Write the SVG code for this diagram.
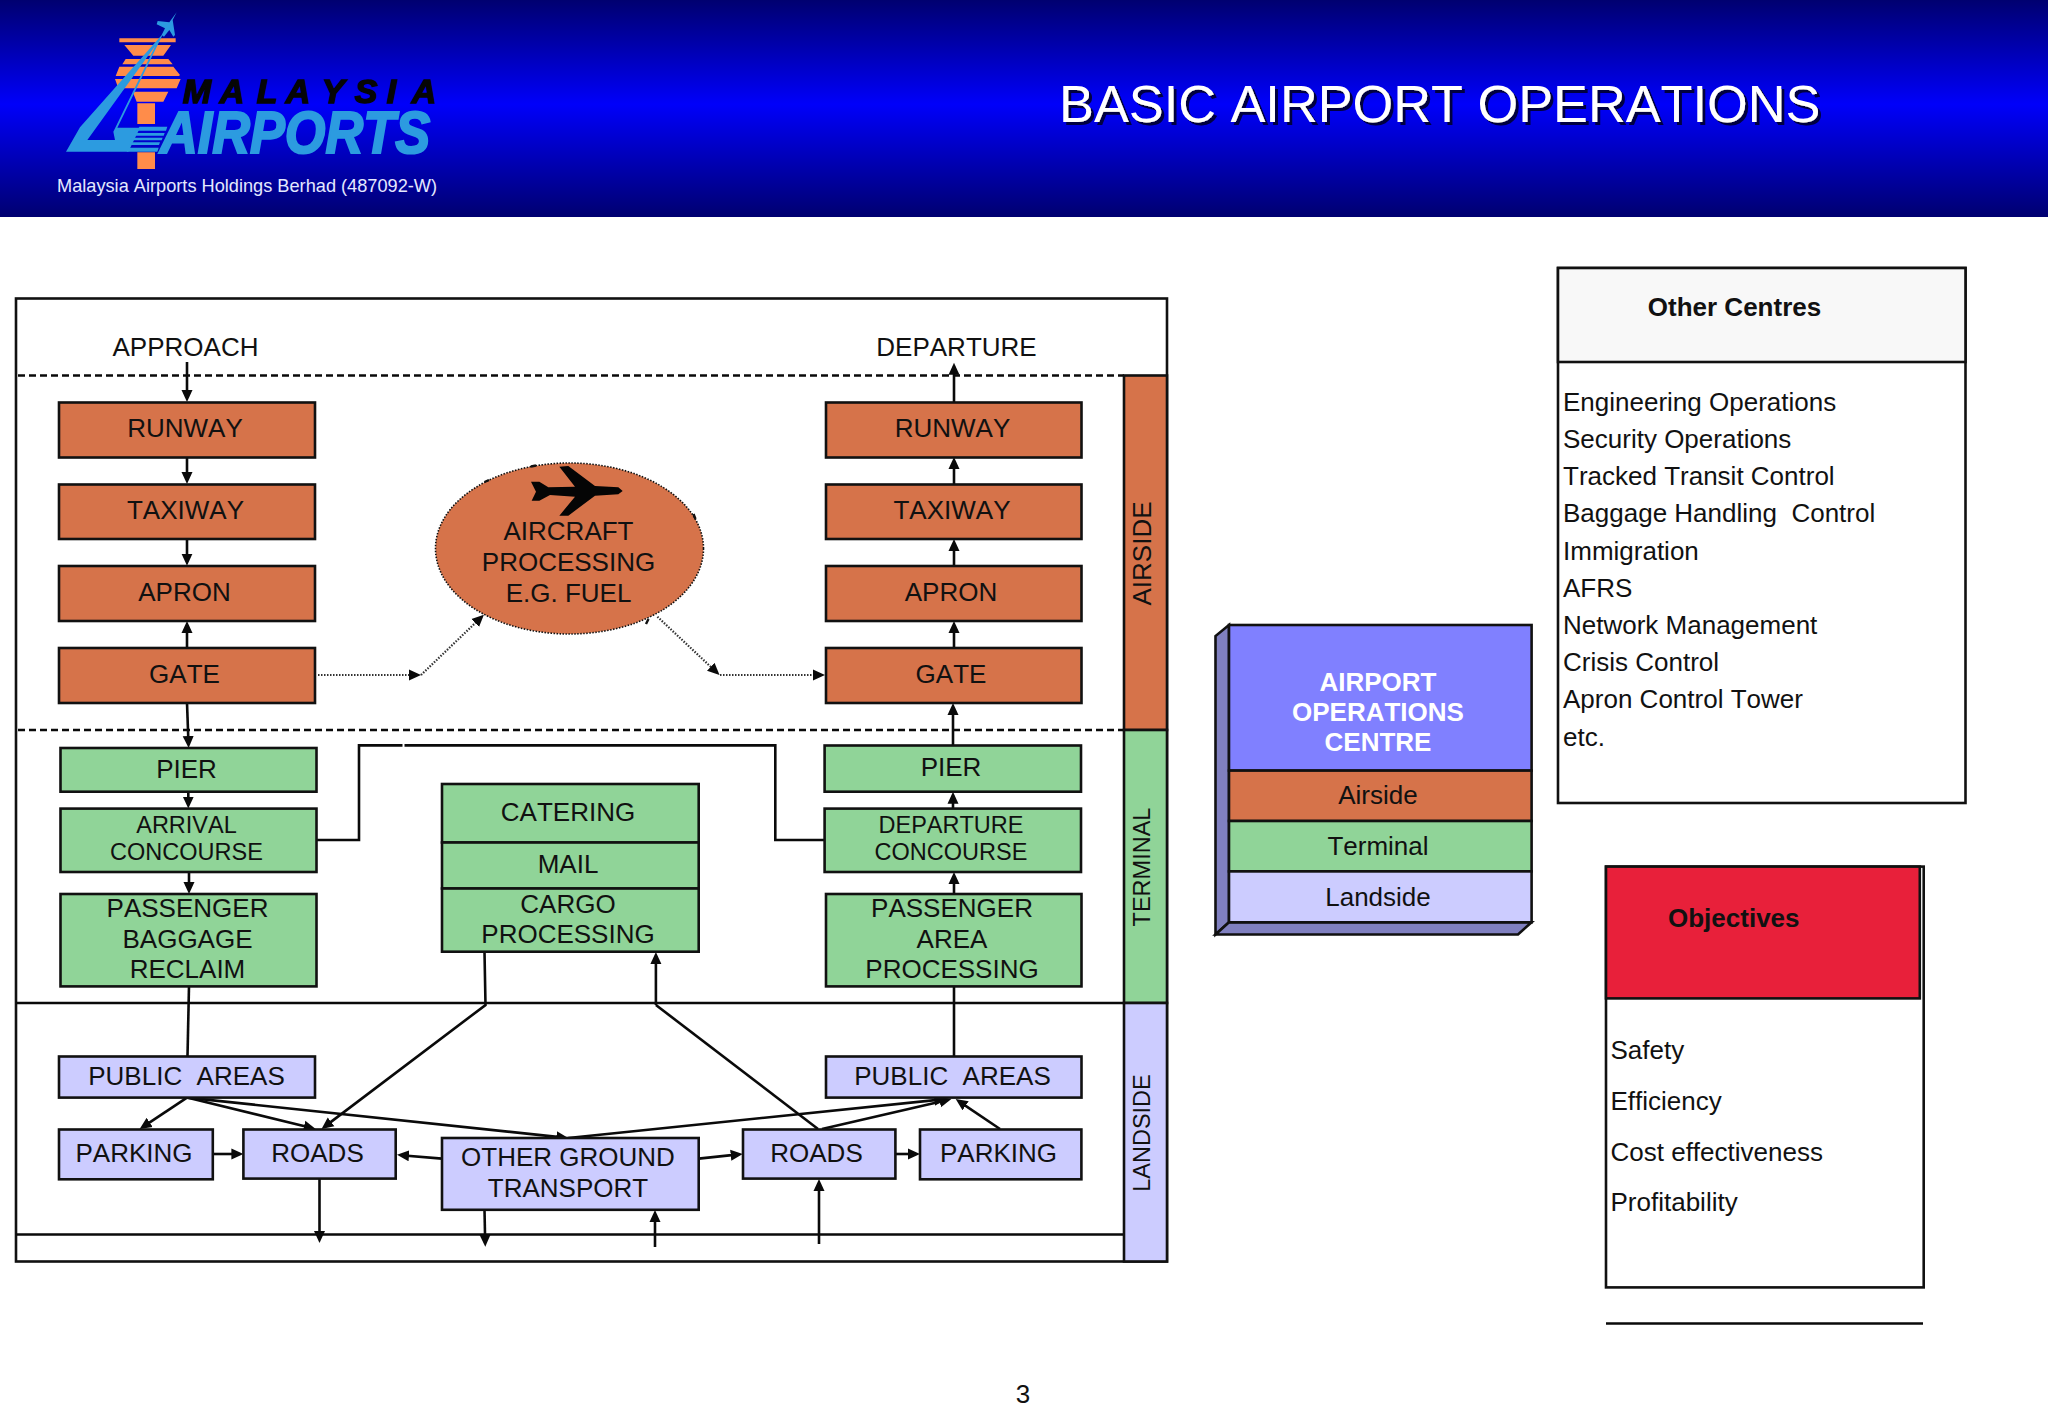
<svg xmlns="http://www.w3.org/2000/svg" width="2048" height="1418" viewBox="0 0 2048 1418">
<defs>
<linearGradient id="hdr" x1="0" y1="0" x2="0" y2="1"><stop offset="0" stop-color="#000070"/><stop offset="0.48" stop-color="#0000FA"/><stop offset="1" stop-color="#000070"/></linearGradient>
<filter id="shadow" x="-5%" y="-20%" width="110%" height="150%"><feOffset in="SourceAlpha" dx="2.5" dy="2.5" result="o"/><feFlood flood-color="#000040"/><feComposite in2="o" operator="in"/><feMerge><feMergeNode/><feMergeNode in="SourceGraphic"/></feMerge></filter>
<marker id="arr" markerUnits="userSpaceOnUse" markerWidth="14" markerHeight="12" refX="8" refY="6" orient="auto"><path d="M0,0.5 L12,6 L0,11.5 z" fill="#0a0a0a"/></marker>
</defs>
<style>
text{font-family:"Liberation Sans",Arial,sans-serif;fill:#111;font-kerning:none}
.t{font-size:26px;text-anchor:middle}
.m{font-size:23.5px;text-anchor:middle}
.s{font-size:23.5px;text-anchor:middle}
.l{font-size:26px}
.b{font-size:26px;font-weight:bold}
.c{font-size:26px;font-weight:bold;text-anchor:middle;fill:#fff}
.box{stroke:#111;stroke-width:2.6}
.o{fill:#D6734A}.g{fill:#90D498}.v{fill:#CCCCFF}
.ln{fill:none;stroke:#0a0a0a;stroke-width:2.6}
.a{fill:none;stroke:#0a0a0a;stroke-width:2.6;marker-end:url(#arr)}
.d{fill:none;stroke:#333;stroke-width:2.2;stroke-dasharray:1.5 1.5;marker-end:url(#arr)}
.dash{fill:none;stroke:#0a0a0a;stroke-width:2.4;stroke-dasharray:7 4}
.tw{fill:#FF8C4A}.lb{fill:#2C9BE0}
</style>
<rect width="2048" height="1418" fill="#fff"/>
<g id="header">
<rect width="2048" height="217" fill="url(#hdr)"/>
<g id="logo">
<g transform="translate(60 5) scale(.33333)">
<path class="tw" d="M178,100H347V112H178z M193,120H333L310,152H220z M187,178L197,162H325L338,178z M178,185H340L360,210L357,213H167z M165,222H362L350,250H175z M218,260H325L310,290H230z M232,295H285V357H232z M232,442H285V492H232z"/>
<path class="lb" fill-rule="evenodd" d="M310,85L172,368H240L205,440H18L60,367z M286,122L82,405H165L160,380z"/>
<path class="lb" d="M238,365H322L318,377H232z M225,384H314L311,392H221z M218,398H308L305,406H214z M212,412H300L297,420H208z M205,428H296L292,440H200z"/>
<path class="lb" d="M350,22L338,45L345,90L340,95L328,75L312,95L305,90L315,70L290,58L293,48L328,52z"/>
</g>
<text style="font-size:34px;font-weight:bold;font-style:italic;fill:#050505;stroke:#050505;stroke-width:1.4" x="183 220 257 286 322 355 387 412" y="103">MALAYSIA</text>
<text style="font-size:60px;font-weight:bold;font-style:italic;fill:#2C9BE0;stroke:#2C9BE0;stroke-width:2.2" x="160" y="153" textLength="270" lengthAdjust="spacingAndGlyphs">AIRPORTS</text>
<text style="font-size:18.200px;fill:#E4E8FF" x="57" y="192">Malaysia Airports Holdings Berhad (487092-W)</text>
</g>
<text style="font-size:52.300px;fill:#fff" filter="url(#shadow)" x="1059" y="122">BASIC AIRPORT OPERATIONS</text>
</g>
<g id="frame">
<rect x="16" y="298.500" width="1151" height="963" fill="#fff" stroke="#111" stroke-width="2.600"/>
<path class="dash" d="M18,375.500H1124M18,730H1124"/>
<path class="ln" d="M16,1003H1124M16,1234.500H1124"/>
</g>
<g id="band-airside"><rect class="box o" x="1124" y="375.500" width="43" height="354.500"/><text class="t" transform="translate(1151 553.500) rotate(-90)">AIRSIDE</text></g>
<g id="band-terminal"><rect class="box g" x="1124" y="730" width="43" height="273"/><text class="m" transform="translate(1150 867) rotate(-90)">TERMINAL</text></g>
<g id="band-landside"><rect class="box v" x="1124" y="1003" width="43" height="258.500"/><text class="m" transform="translate(1150 1133) rotate(-90)">LANDSIDE</text></g>
<text class="t" x="185.500" y="356">APPROACH</text>
<text class="t" x="956.500" y="356">DEPARTURE</text>
<g id="connectors">
<path class="a" d="M187,362V398"/><path class="a" d="M187,457V480"/><path class="a" d="M187,539V561.700"/><path class="a" d="M187,648V625"/><path class="a" d="M187,703L188.500,744"/><path class="a" d="M188.300,792V804.600"/><path class="a" d="M189,872V890"/><path class="ln" d="M189,986L187.500,1056"/>
<path class="a" d="M954,420V366.700"/><path class="a" d="M954,484V461"/><path class="a" d="M954,566V543"/><path class="a" d="M954,648V625"/><path class="a" d="M953,746V707"/><path class="a" d="M953,808.600V795.700"/><path class="a" d="M954,894V876"/><path class="ln" d="M954,986V1056"/>
<path class="ln" d="M316.500,840H359V745.400H402.500M404.500,745.400H775.300V840H824.600"/>
<path class="d" d="M318,675H417"/><path class="d" d="M421,675L481,617.500"/><path class="d" d="M657.400,616.700L716.600,672.300"/><path class="d" d="M720,675H821"/>
<path class="a" d="M484.500,952L485.500,1005L324.700,1126.600"/><path class="a" d="M655.900,1005V956"/><path class="ln" d="M655.900,1005L818,1129"/>
<path class="a" d="M187,1097.600L143,1126.800"/><path class="a" d="M187,1097.600L311.800,1128"/><path class="a" d="M187,1097.600L564.300,1137.600"/>
<path class="a" d="M213,1154H239.400"/><path class="a" d="M442,1158.600L401,1155.200"/><path class="a" d="M319.500,1179V1239"/><path class="a" d="M484.500,1210L485.200,1242.700"/><path class="a" d="M655,1247V1214"/><path class="a" d="M819,1244V1183"/>
<path class="a" d="M698.700,1158.600L738.700,1154.400"/><path class="a" d="M895.400,1154H916"/><path class="a" d="M822,1129L947.500,1100"/><path class="a" d="M568.300,1138L942.300,1099.400"/><path class="a" d="M1000,1129L959,1101.300"/>
</g>
<g id="runway-l"><rect class="box o" x="59" y="402.500" width="256" height="55"/><text class="t" x="185" y="437">RUNWAY</text></g>
<g id="taxiway-l"><rect class="box o" x="59" y="484.500" width="256" height="54.500"/><text class="t" x="185.500" y="519">TAXIWAY</text></g>
<g id="apron-l"><rect class="box o" x="59" y="566" width="256" height="55"/><text class="t" x="184.500" y="601">APRON</text></g>
<g id="gate-l"><rect class="box o" x="59" y="648" width="256" height="55"/><text class="t" x="184.500" y="682.500">GATE</text></g>
<g id="runway-r"><rect class="box o" x="826" y="402.500" width="255.500" height="55"/><text class="t" x="952.500" y="437">RUNWAY</text></g>
<g id="taxiway-r"><rect class="box o" x="826" y="484.500" width="255.500" height="54.500"/><text class="t" x="952" y="519">TAXIWAY</text></g>
<g id="apron-r"><rect class="box o" x="826" y="566" width="255.500" height="55"/><text class="t" x="951" y="601">APRON</text></g>
<g id="gate-r"><rect class="box o" x="826" y="648" width="255.500" height="55"/><text class="t" x="951" y="682.500">GATE</text></g>
<g id="aircraft-processing">
<ellipse cx="569.500" cy="548.500" rx="134" ry="85.500" fill="#D6734A" stroke="#111" stroke-width="1.600" stroke-dasharray="1.500 1.500"/>
<path d="M531,466.500L536,465.500M484.500,482L489,480M693.500,514L695.500,519M648.500,619L646,624" stroke="#111" stroke-width="2.400" fill="none"/>
<path transform="translate(500 450) scale(.33333)" fill="#050505" d="M368,123L355,133L285,137L205,197L178,197L225,140L150,135L118,152L95,152L108,125L93,95L118,95L145,112L225,110L178,50L205,48L285,108L355,112z"/>
<text class="t" x="568.500" y="540">AIRCRAFT</text><text class="t" x="568.500" y="571">PROCESSING</text><text class="t" x="568.500" y="601.500">E.G. FUEL</text>
</g>
<g id="pier-l"><rect class="box g" x="60.500" y="748" width="256" height="43.700"/><text class="t" x="186.500" y="777.500">PIER</text></g>
<g id="arrival"><rect class="box g" x="60.500" y="808.600" width="256" height="63.400"/><text class="s" x="186.500" y="833">ARRIVAL</text><text class="s" x="186.500" y="860">CONCOURSE</text></g>
<g id="reclaim"><rect class="box g" x="60.500" y="894" width="256" height="92.400"/><text class="t" x="187.500" y="917">PASSENGER</text><text class="t" x="187.500" y="947.500">BAGGAGE</text><text class="t" x="187.500" y="978">RECLAIM</text></g>
<g id="catering"><rect class="box g" x="442" y="784" width="256.700" height="58.500"/><text class="t" x="568" y="821">CATERING</text></g>
<g id="mail"><rect class="box g" x="442" y="842.500" width="256.700" height="46"/><text class="t" x="568" y="873">MAIL</text></g>
<g id="cargo"><rect class="box g" x="442" y="888.500" width="256.700" height="63.200"/><text class="t" x="568" y="912.500">CARGO</text><text class="t" x="568" y="942.500">PROCESSING</text></g>
<g id="pier-r"><rect class="box g" x="824.600" y="745.500" width="256.400" height="46.200"/><text class="t" x="951" y="775.500">PIER</text></g>
<g id="departure"><rect class="box g" x="824.600" y="808.600" width="256.400" height="63.400"/><text class="s" x="951" y="833">DEPARTURE</text><text class="s" x="951" y="860">CONCOURSE</text></g>
<g id="passenger"><rect class="box g" x="826" y="894" width="255.500" height="92.400"/><text class="t" x="952" y="917">PASSENGER</text><text class="t" x="952" y="947.500">AREA</text><text class="t" x="952" y="978">PROCESSING</text></g>
<g id="public-l"><rect class="box v" x="59" y="1056.500" width="256" height="41.100"/><text class="t" x="186.500" y="1085" xml:space="preserve">PUBLIC  AREAS</text></g>
<g id="parking-l"><rect class="box v" x="59" y="1129.500" width="153.800" height="49.800"/><text class="t" x="134" y="1161.500">PARKING</text></g>
<g id="roads-l"><rect class="box v" x="243.400" y="1129.500" width="152.300" height="49.100"/><text class="t" x="317.500" y="1161.500">ROADS</text></g>
<g id="other-ground"><rect class="box v" x="442" y="1138" width="256.700" height="71.800"/><text class="t" x="568" y="1166">OTHER GROUND</text><text class="t" x="568" y="1196.500">TRANSPORT</text></g>
<g id="roads-r"><rect class="box v" x="743" y="1129.500" width="152.400" height="49.100"/><text class="t" x="816.500" y="1161.500">ROADS</text></g>
<g id="parking-r"><rect class="box v" x="920" y="1129.500" width="161.400" height="49.800"/><text class="t" x="998.500" y="1161.500">PARKING</text></g>
<g id="public-r"><rect class="box v" x="826" y="1056.500" width="255.500" height="41.100"/><text class="t" x="952.500" y="1085" xml:space="preserve">PUBLIC  AREAS</text></g>
<g id="aoc">
<path d="M1229,625L1215.500,636V934.500L1229,922.300z" fill="#8080C0" class="box"/>
<path d="M1229,922.300H1531.600L1518,934.500H1215.500z" fill="#8080C0" class="box"/>
<rect class="box" x="1229" y="625" width="302.600" height="145.600" fill="#8080FF"/>
<rect class="box o" x="1229" y="770.600" width="302.600" height="50.400"/>
<rect class="box g" x="1229" y="821" width="302.600" height="50.400"/>
<rect class="box v" x="1229" y="871.400" width="302.600" height="50.900"/>
<text class="c" x="1378" y="691">AIRPORT</text><text class="c" x="1378" y="721">OPERATIONS</text><text class="c" x="1378" y="751">CENTRE</text>
<text class="t" x="1378" y="804">Airside</text><text class="t" x="1378" y="855">Terminal</text><text class="t" x="1378" y="906">Landside</text>
</g>
<g id="other-centres">
<rect class="box" x="1558" y="268" width="407.500" height="535" fill="#fff"/>
<rect class="box" x="1558" y="268" width="407.500" height="94" fill="#F8F8F8"/>
<text class="b" text-anchor="middle" x="1734.500" y="316">Other Centres</text>
<text class="l" x="1563" y="411">Engineering Operations</text>
<text class="l" x="1563" y="448">Security Operations</text>
<text class="l" x="1563" y="485">Tracked Transit Control</text>
<text class="l" x="1563" y="522" xml:space="preserve">Baggage Handling  Control</text>
<text class="l" x="1563" y="559.500">Immigration</text>
<text class="l" x="1563" y="596.500">AFRS</text>
<text class="l" x="1563" y="634">Network Management</text>
<text class="l" x="1563" y="671">Crisis Control</text>
<text class="l" x="1563" y="708">Apron Control Tower</text>
<text class="l" x="1563" y="745.500">etc.</text>
</g>
<g id="objectives">
<rect class="box" x="1606" y="866.600" width="317.700" height="420.800" fill="#fff"/>
<rect class="box" x="1606" y="866.600" width="313.800" height="131.800" fill="#E8203A"/>
<text class="b" x="1668" y="927">Objectives</text>
<text class="l" x="1610.500" y="1059">Safety</text>
<text class="l" x="1610.500" y="1110">Efficiency</text>
<text class="l" x="1610.500" y="1160.500">Cost effectiveness</text>
<text class="l" x="1610.500" y="1211">Profitability</text>
<path class="ln" d="M1606,1323.500H1923"/>
</g>
<text class="t" x="1023" y="1403">3</text>
</svg>
